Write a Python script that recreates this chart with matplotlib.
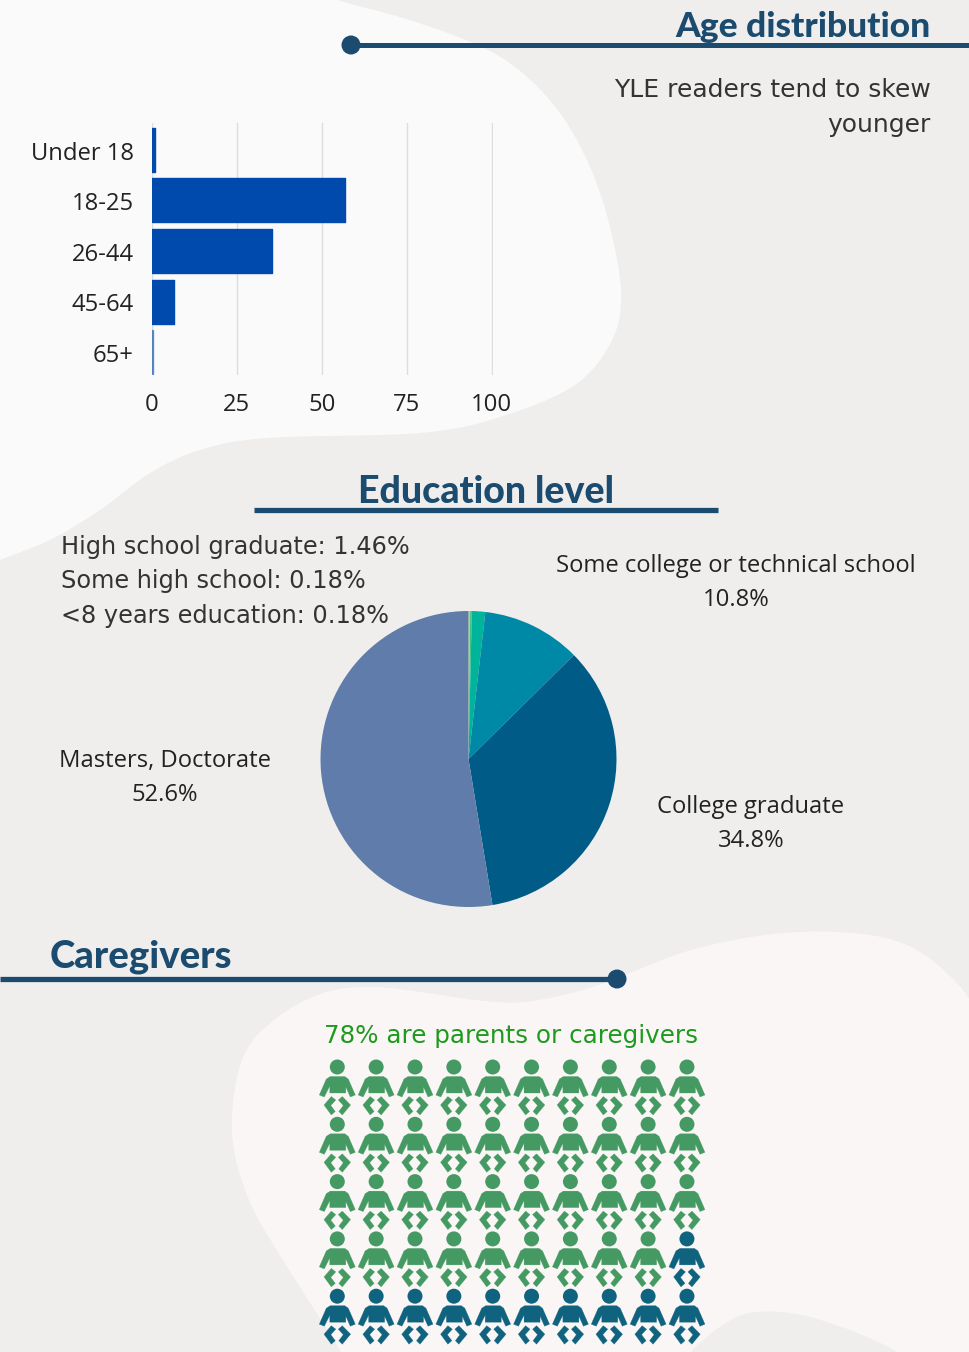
import matplotlib
matplotlib.use("Agg")
import matplotlib.pyplot as plt
from matplotlib.path import Path
from matplotlib.patches import PathPatch, Circle, Polygon
from matplotlib.transforms import ScaledTranslation

# data
age_groups = ["Under 18", "18-25", "26-44", "45-64", "65+"]
age_values = [1.0, 56.8, 35.3, 6.6, 0.2]
age_ticks = [0, 25, 50, 75, 100]

edu_values = [0.18, 0.18, 1.46, 10.8, 34.8, 52.6]
edu_colors = ["#A8E05F", "#3FC27E", "#00B39B", "#0089A7", "#005C87", "#607CAA"]

caregiver_pct = 78
icon_rows = 5
icon_cols = 10

W, H = 970, 1352
NAVY = "#1B4B6E"
BG = "#EFEEED"
TEXT = "#222222"
HEAD = "Lato"
BODY = "Open Sans"
WIDE = "DejaVu Sans"


def smooth(pts):
    # closed catmull-rom turned into bezier segments
    n = len(pts)
    verts = [pts[0]]
    codes = [Path.MOVETO]
    for i in range(n):
        p0, p1, p2, p3 = pts[i - 1], pts[i], pts[(i + 1) % n], pts[(i + 2) % n]
        c1 = (p1[0] + (p2[0] - p0[0]) / 6, p1[1] + (p2[1] - p0[1]) / 6)
        c2 = (p2[0] - (p3[0] - p1[0]) / 6, p2[1] - (p3[1] - p1[1]) / 6)
        verts += [c1, c2, p2]
        codes += [Path.CURVE4] * 3
    return Path(verts, codes)


fig = plt.figure(figsize=(W / 100, H / 100), dpi=100, facecolor=BG)

bg = fig.add_axes([0, 0, 1, 1])
bg.set_xlim(0, W)
bg.set_ylim(H, 0)
bg.axis("off")

# background blobs
top_blob = [(-200, -200), (270, -25), (337, 0), (403, 18), (473, 43), (519, 70), (560, 113), (590, 167), (610, 227),
            (621, 293), (612, 340), (575, 385), (500, 417), (420, 433), (267, 438), (200, 450), (150, 473),
            (100, 510), (50, 540), (0, 560), (-60, 585), (-300, 300)]
bottom_blob = [(232, 1133), (242, 1060), (274, 1020), (323, 993), (372, 987), (421, 992), (475, 1000), (524, 1002),
               (583, 990), (632, 972), (691, 950), (765, 935), (838, 932), (902, 943), (951, 977), (1000, 1040),
               (1200, 1300), (1100, 1500), (500, 1500), (365, 1380), (328, 1330), (283, 1260), (249, 1200)]
corner_blob = [(660, 1390), (691, 1352), (720, 1327), (755, 1312), (814, 1318), (897, 1352), (950, 1400), (800, 1450)]
bg.add_patch(PathPatch(smooth(top_blob), fc="#FAFAFA", ec="none"))
bg.add_patch(PathPatch(smooth(bottom_blob), fc="#FAF6F5", ec="none"))
bg.add_patch(PathPatch(smooth(corner_blob), fc=BG, ec="none"))

# headings and rules
bg.plot([351, 970], [45, 45], color=NAVY, lw=3.6, solid_capstyle="butt")
bg.add_patch(Circle((351, 45), 9.5, fc=NAVY, ec="none"))
bg.text(930.5, 37, "Age distribution", ha="right", va="baseline", fontsize=25.5, family=HEAD, weight="black", color=NAVY)
bg.text(931, 97, "YLE readers tend to skew", ha="right", va="baseline", fontsize=18, family=WIDE, color="#333333")
bg.text(931, 132, "younger", ha="right", va="baseline", fontsize=18, family=WIDE, color="#333333")

bg.plot([254, 718], [510, 510], color=NAVY, lw=3.8, solid_capstyle="butt")
bg.text(486, 503, "Education level", ha="center", va="baseline", fontsize=27, family=HEAD, weight="black", color=NAVY)

bg.plot([0, 617], [979, 979], color=NAVY, lw=3.8, solid_capstyle="butt")
bg.add_patch(Circle((617, 979), 9.5, fc=NAVY, ec="none"))
bg.text(50, 967, "Caregivers", ha="left", va="baseline", fontsize=27.5, family=HEAD, weight="black", color=NAVY)

# education labels
for y, s in [(554, "High school graduate: 1.46%"), (588, "Some high school: 0.18%"), (623, "<8 years education: 0.18%")]:
    bg.text(61, y, s, ha="left", va="baseline", fontsize=17.3, family=WIDE, color="#333333")
bg.text(736, 572, "Some college or technical school", ha="center", va="baseline", fontsize=17.1, family=BODY, color=TEXT)
bg.text(736, 606, "10.8%", ha="center", va="baseline", fontsize=17.1, family=BODY, color=TEXT)
bg.text(165, 767, "Masters, Doctorate", ha="center", va="baseline", fontsize=17.1, family=BODY, color=TEXT)
bg.text(165, 801, "52.6%", ha="center", va="baseline", fontsize=17.1, family=BODY, color=TEXT)
bg.text(751, 813, "College graduate", ha="center", va="baseline", fontsize=17.1, family=BODY, color=TEXT)
bg.text(751, 847, "34.8%", ha="center", va="baseline", fontsize=17.1, family=BODY, color=TEXT)

bg.text(511.5, 1043, f"{caregiver_pct}% are parents or caregivers", ha="center", va="baseline",
        fontsize=17.7, family=WIDE, color="#1E9A1E")

# bar chart
bar_ax = fig.add_axes([152 / W, 1 - 374.5 / H, (493.2 - 152) / W, (374.5 - 123) / H])
bar_ax.patch.set_alpha(0)
rows = list(range(len(age_groups)))
bars = bar_ax.barh(rows, age_values, height=0.87, color="#004AAD", edgecolor="#004AAD", linewidth=1.0, zorder=3)
for b in bars:
    b.set_joinstyle("round")
bars[-1].set_alpha(0.5)
bar_ax.set_ylim(4.44, -0.528)
bar_ax.set_xlim(0, 100.5)
bar_ax.set_xticks(age_ticks)
bar_ax.set_yticks(rows)
bar_ax.set_yticklabels(age_groups, family=BODY, fontsize=17.1, color=TEXT)
bar_ax.set_xticklabels(age_ticks, family=BODY, fontsize=17.1, color=TEXT)
bar_ax.tick_params(length=0, axis="y", pad=13)
bar_ax.tick_params(length=0, axis="x", pad=13)
shift = ScaledTranslation(0, -0.008, fig.dpi_scale_trans)
for lab in bar_ax.get_yticklabels():
    lab.set_transform(lab.get_transform() + shift)
bar_ax.grid(axis="x", color="#DDDDDD", lw=1, zorder=0)
for s in bar_ax.spines.values():
    s.set_visible(False)

# pie
pie_ax = fig.add_axes([(468.5 - 148) / W, 1 - (759 + 148) / H, 296 / W, 296 / H])
pie_ax.pie(edu_values, colors=edu_colors, startangle=90, counterclock=False, radius=1)
pie_ax.set_xlim(-1, 1)
pie_ax.set_ylim(-1, 1)

# baby pictogram, glyph drawn around the head centre
body = [(-7, 9.5), (7.5, 9.5), (11, 12), (18, 28), (13, 30), (8.5, 20), (8.5, 26), (-7.5, 26), (-7.5, 19), (-13, 30), (-18, 28), (-11, 12)]
leg_l = [(-6, 29.5), (-13.3, 38), (-6, 48), (-2, 44.5), (-6.5, 38.5), (-1.5, 33)]
leg_r = [(5, 29.5), (13.3, 38), (5, 48), (1.5, 44.5), (6, 38.5), (1, 33)]
n_green = round(icon_rows * icon_cols * caregiver_pct / 100)
count = 0
for r in range(icon_rows):
    for c in range(icon_cols):
        col = "#459A63" if count < n_green else "#10637F"
        count += 1
        cx = 337.3 + c * 38.85
        cy = 1067 + r * 57.3
        bg.add_patch(Circle((cx, cy), 7.5, fc=col, ec="none"))
        for shape in (body, leg_l, leg_r):
            bg.add_patch(Polygon([(cx + x, cy + y) for x, y in shape], closed=True, fc=col, ec=col, lw=0.2, joinstyle="round"))

fig.savefig("out.png", dpi=100, facecolor=BG)
